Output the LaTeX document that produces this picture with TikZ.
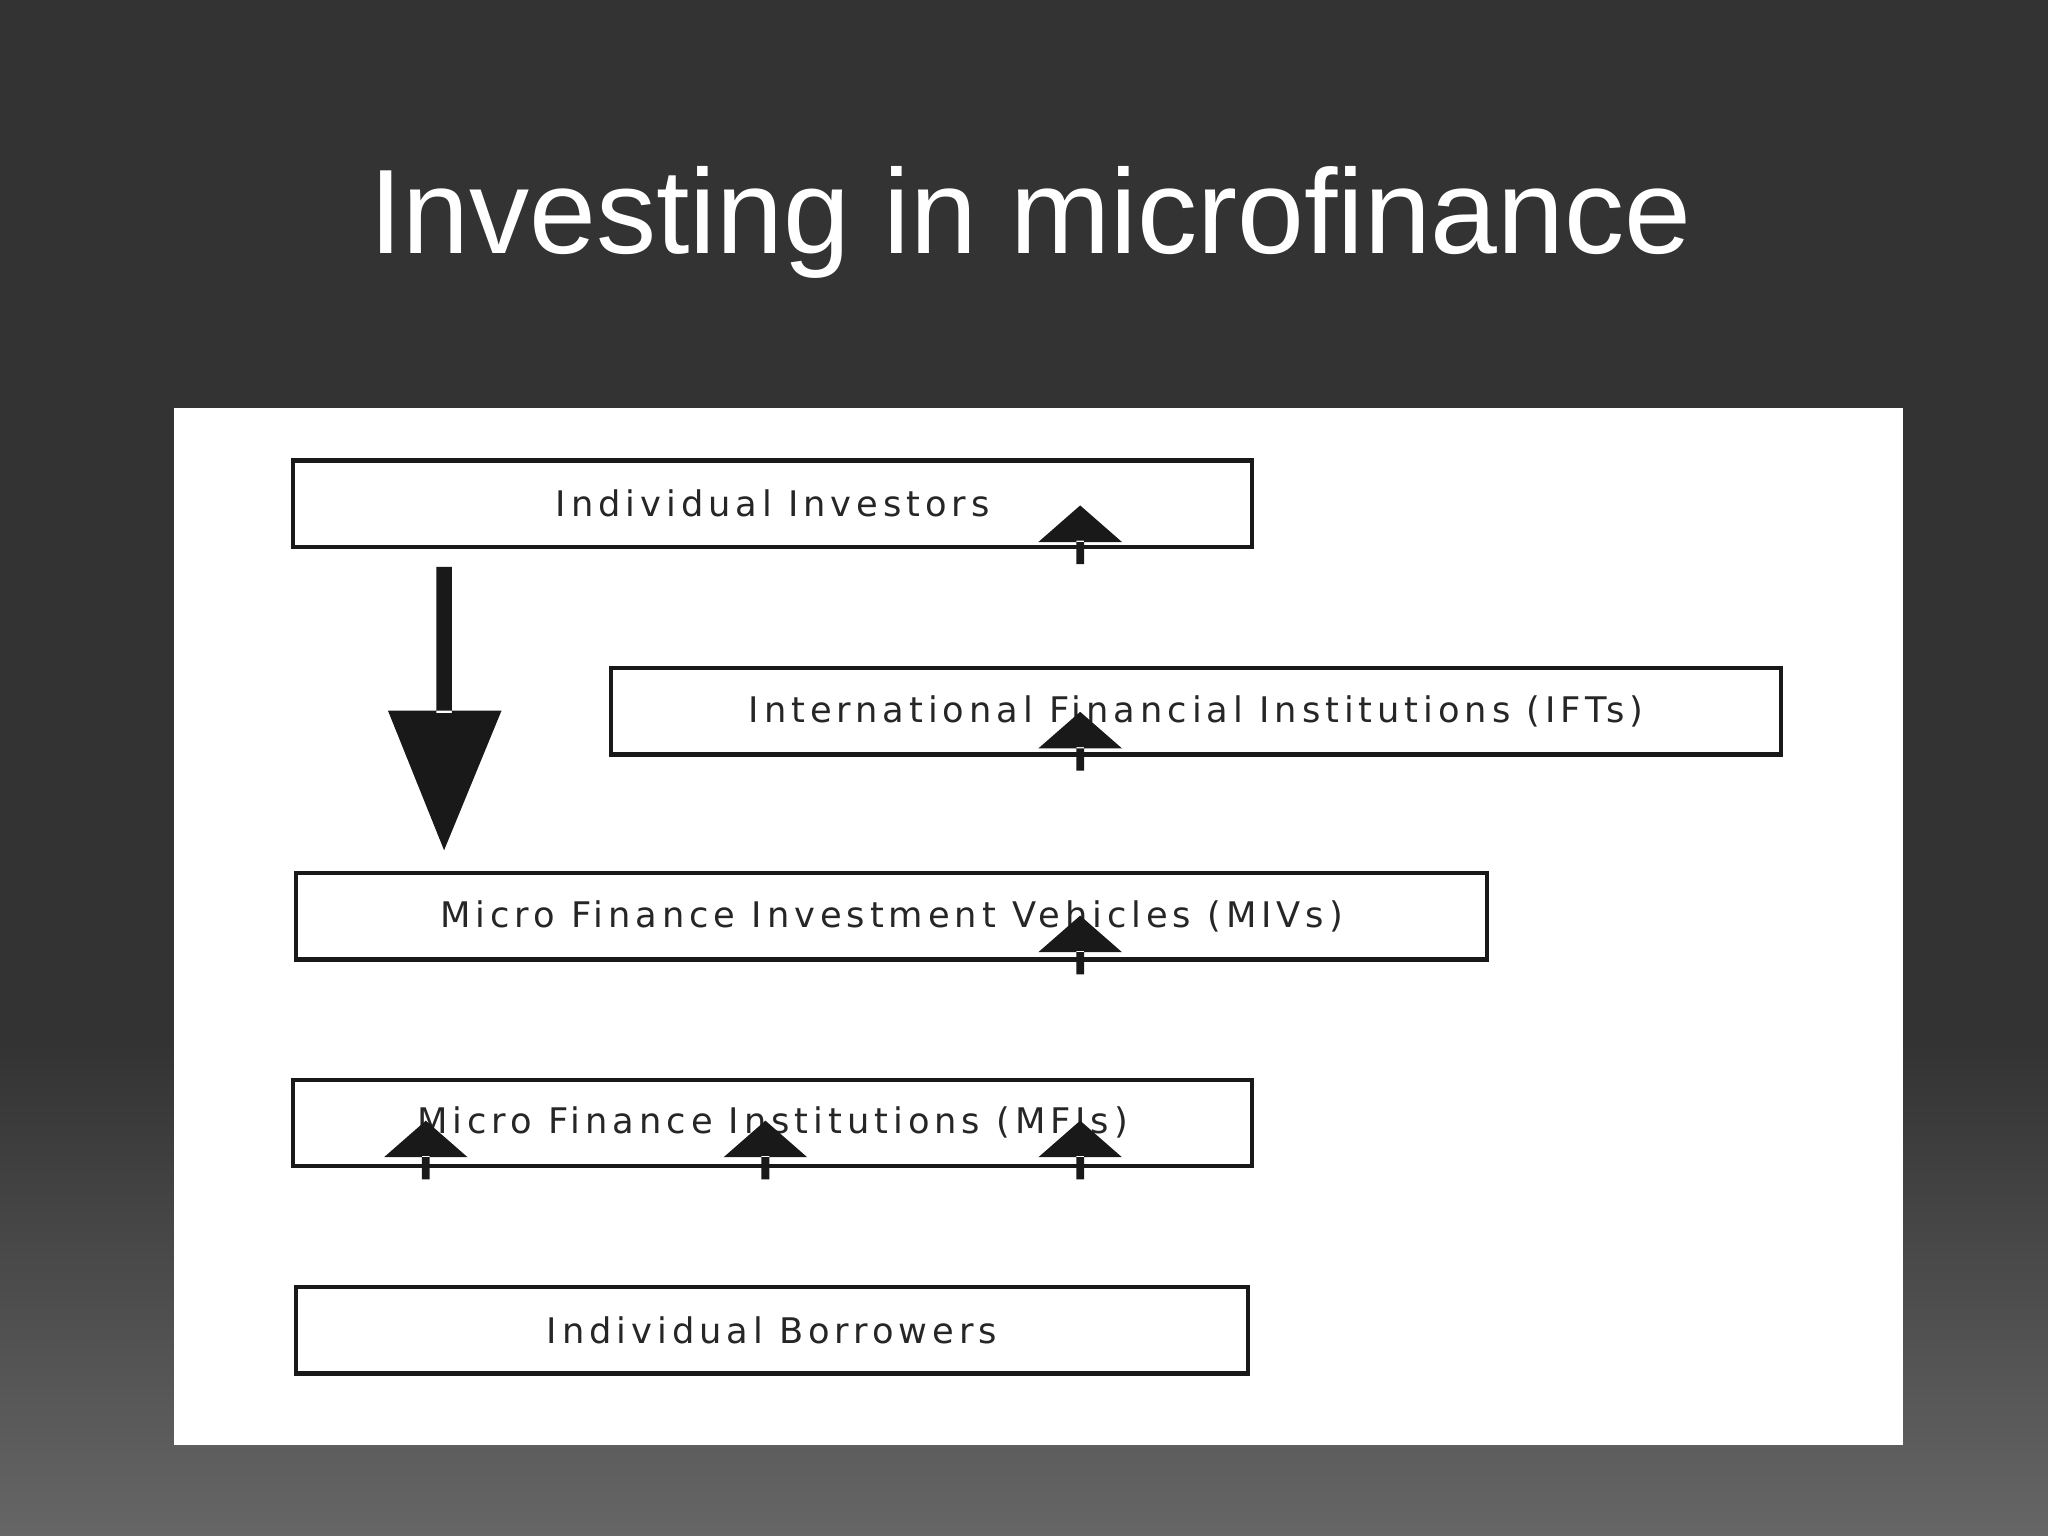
\documentclass[tikz,border=0pt]{standalone}
\usepackage{fontspec}
\setmainfont{Liberation Sans}
\newfontfamily\boxfont[LetterSpace=14]{DejaVu Sans}
\tikzset{
  flowbox/.style={draw=black!90,line width=1.6pt,fill=white,inner sep=0pt,anchor=north west},
  boxtext/.style={font=\boxfont\fontsize{13.5}{16}\selectfont,text=black!85},
  smallarrow/.pic={\fill[black!90] (-3,0) rectangle (3,-18) (-32,-17) -- (32,-17) -- (0,-45) -- cycle;},
}
\begin{document}
\begin{tikzpicture}[x=0.5pt,y=-0.5pt]
\useasboundingbox (0,0) rectangle (1568,1176);
\fill[black!80] (0,0) rectangle (1568,800);
\shade[top color=black!80,bottom color=black!60] (0,799) rectangle (1568,1176);
\node[text=white,font=\fontsize{46}{50}\selectfont] (title) at (789,170) {Investing in microfinance};
\fill[white] (133,312) rectangle (1457,1106);
\node[flowbox,minimum width=367pt,minimum height=33pt] (b1) at (223,351) {};
\node[boxtext] at (b1.center) {Individual Investors};
\node[flowbox,minimum width=448pt,minimum height=33pt] (b2) at (466,510) {};
\node[boxtext] at (b2.center) {International Financial Institutions (IFTs)};
\node[flowbox,minimum width=456pt,minimum height=33pt] (b3) at (225,667) {};
\node[boxtext] at (b3.center) {Micro Finance Investment Vehicles (MIVs)};
\node[flowbox,minimum width=367pt,minimum height=33pt] (b4) at (223,825) {};
\node[boxtext] at (b4.center) {Micro Finance Institutions (MFIs)};
\node[flowbox,minimum width=364.5pt,minimum height=33pt] (b5) at (225,984) {};
\node[boxtext] at (b5.center) {Individual Borrowers};
\fill[black!90] (334,434) rectangle (346,546) (297,544) -- (384,544) -- (340,651) -- cycle;
\pic at (827,432) {smallarrow};
\pic at (827,590) {smallarrow};
\pic at (827,746) {smallarrow};
\pic at (326,903) {smallarrow};
\pic at (586,903) {smallarrow};
\pic at (827,903) {smallarrow};
\end{tikzpicture}
\end{document}
